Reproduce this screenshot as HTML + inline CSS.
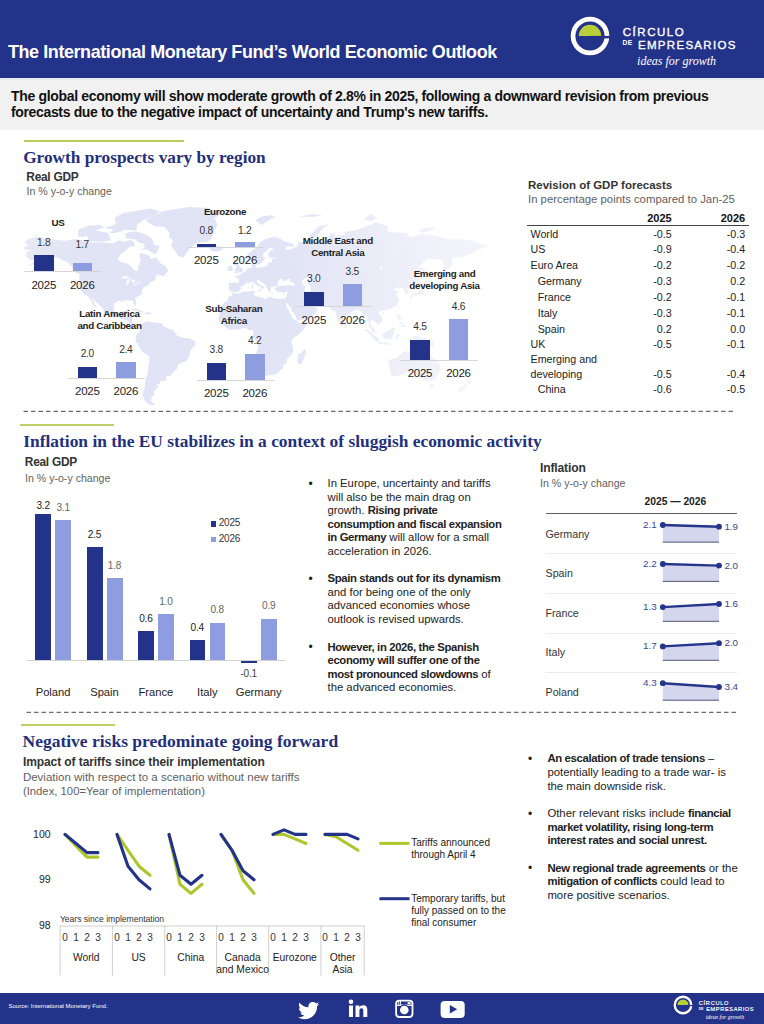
<!DOCTYPE html>
<html><head><meta charset="utf-8"><style>
html,body{margin:0;padding:0;}
body{width:764px;height:1024px;position:relative;overflow:hidden;background:#fff;font-family:"Liberation Sans",sans-serif;}
.t{position:absolute;white-space:nowrap;}
.r{position:absolute;}
b{font-weight:700;}
</style></head><body>
<div class="r" style="left:0px;top:0px;width:764px;height:78px;background:#24338a;"></div>
<div class="t" style="top:42.25px;font-size:19.2px;line-height:19.2px;font-weight:700;color:#fff;font-family:'Liberation Sans', sans-serif;letter-spacing:-0.45px;left:7.6px;transform:scaleX(0.937);transform-origin:0 0;">The International Monetary Fund’s World Economic Outlook</div>
<div class="r" style="left:0px;top:78px;width:764px;height:52px;background:#f1f1f1;"></div>
<div class="r" style="left:0px;top:78px;width:764px;height:1.5px;background:#e9edf6;"></div>
<div class="t" style="top:88.65px;font-size:14px;line-height:14px;font-weight:700;color:#111;font-family:'Liberation Sans', sans-serif;letter-spacing:-0.33px;left:11px;">The global economy will show moderate growth of 2.8% in 2025, following a downward revision from previous</div>
<div class="t" style="top:104.75px;font-size:14px;line-height:14px;font-weight:700;color:#111;font-family:'Liberation Sans', sans-serif;letter-spacing:-0.35px;left:11px;">forecasts due to the negative impact of uncertainty and Trump's new tariffs.</div>
<div class="r" style="left:24px;top:139.9px;width:160px;height:2.1px;background:#bccb5c;"></div>
<div class="t" style="top:148.55px;font-size:17.25px;line-height:17.25px;font-weight:700;color:#22307c;font-family:'Liberation Serif', serif;left:23.2px;">Growth prospects vary by region</div>
<div class="t" style="top:171.53px;font-size:11.9px;line-height:11.9px;font-weight:700;color:#333;font-family:'Liberation Sans', sans-serif;letter-spacing:-0.25px;left:26.3px;">Real GDP</div>
<div class="t" style="top:186.23px;font-size:10.6px;line-height:10.6px;font-weight:400;color:#5f5f5f;font-family:'Liberation Sans', sans-serif;left:26.5px;">In % y-o-y change</div>
<svg class="r" style="left:0;top:0" width="764" height="1024"><defs><radialGradient id="mg" gradientUnits="userSpaceOnUse" cx="180" cy="292" r="285"><stop offset="0" stop-color="#dfe3f5"/><stop offset="0.38" stop-color="#e1e4f5"/><stop offset="0.62" stop-color="#e8eaf7"/><stop offset="0.85" stop-color="#eff0f9"/><stop offset="1" stop-color="#f3f4fb"/></radialGradient></defs><path d="M24.9,241.7 L28.8,238.7 L37.2,236.6 L45.7,238.4 L57.4,240.1 L65.2,240.7 L74.3,238.9 L84.7,240.5 L92.5,242.8 L100.3,242.2 L113.3,243.6 L118.5,240.3 L123.7,241.7 L130.2,239.7 L134.1,242.2 L134.8,246.1 L128.9,247.0 L126.3,250.3 L120.4,254.2 L117.8,258.5 L119.8,261.8 L123.7,262.6 L130.2,265.3 L133.7,269.7 L137.3,271.2 L138.6,265.8 L140.6,261.0 L139.3,256.8 L139.9,253.4 L144.5,253.7 L149.7,256.0 L150.3,259.3 L156.2,257.3 L160.8,263.4 L165.9,266.6 L168.3,270.4 L164.0,276.3 L156.8,274.6 L154.9,280.6 L149.7,282.2 L149.0,285.1 L144.5,286.7 L141.9,290.0 L142.3,293.5 L139.3,295.4 L135.4,298.3 L136.4,303.9 L136.0,306.0 L134.1,304.5 L132.8,300.8 L130.2,300.6 L124.3,299.9 L123.7,301.4 L118.5,300.7 L114.3,303.0 L113.9,306.3 L113.7,310.4 L115.9,313.4 L117.8,314.3 L122.4,313.6 L123.0,311.0 L127.6,310.4 L126.8,314.1 L125.9,316.9 L131.5,317.1 L132.5,318.6 L131.8,322.6 L134.8,325.0 L137.3,324.3 L140.1,325.4 L139.3,327.0 L136.7,326.6 L135.4,326.0 L132.0,325.5 L129.3,323.8 L129.2,322.3 L126.9,320.1 L121.7,319.2 L118.5,316.9 L115.2,317.2 L109.4,315.5 L103.5,312.2 L103.5,309.3 L100.3,305.7 L94.4,300.8 L91.6,298.1 L93.8,301.4 L95.1,305.1 L97.7,308.7 L95.1,306.9 L92.5,303.9 L91.2,300.8 L88.6,297.1 L86.6,295.2 L83.9,294.4 L81.4,290.7 L79.5,286.7 L79.1,283.3 L79.5,278.7 L78.6,275.7 L80.8,274.9 L74.9,271.9 L71.7,266.6 L67.1,261.8 L61.9,260.0 L58.7,257.7 L52.2,257.2 L48.3,256.8 L43.7,259.0 L40.5,262.3 L35.9,263.3 L30.1,265.8 L26.8,266.7 L34.6,261.8 L35.9,260.0 L30.1,260.0 L26.2,256.6 L26.2,253.4 L26.8,252.1 L31.4,250.2 L25.5,249.8 L22.3,247.8 L28.1,246.1ZM136.7,231.5 L147.1,235.1 L152.3,239.3 L154.2,245.1 L160.1,246.1 L157.5,251.6 L155.5,254.2 L151.6,252.5 L147.1,249.8 L139.3,249.8 L144.5,248.0 L144.5,244.2 L138.0,242.2 L135.4,239.3 L126.3,238.2 L125.0,233.9 L128.9,231.9ZM87.3,236.2 L86.0,231.9 L91.2,229.7 L104.2,231.9 L108.1,233.0 L110.7,240.3 L102.9,241.5 L91.2,241.7 L87.9,239.7ZM121.1,229.7 L136.7,230.2 L136.7,225.1 L143.2,220.3 L152.3,216.5 L160.1,211.2 L149.7,208.5 L123.7,213.1 L114.6,217.8 L115.9,224.0 L110.7,226.3 L104.2,227.5 L113.3,229.7ZM78.2,236.2 L78.2,229.7 L88.6,225.4 L100.3,225.1 L104.2,227.5 L97.7,229.7 L88.6,234.1 L83.4,237.2ZM114.6,233.0 L123.7,230.8 L117.2,228.6 L113.3,229.7 L109.4,233.0ZM145.8,220.3 L154.9,215.0 L162.7,211.2 L188.7,207.0 L208.2,207.9 L216.0,212.6 L224.4,212.6 L214.7,217.8 L217.3,225.1 L213.4,233.0 L212.1,238.2 L206.9,242.2 L197.8,242.8 L190.0,247.8 L186.1,253.4 L183.5,257.7 L178.3,256.0 L175.0,250.7 L171.1,246.1 L173.1,240.3 L169.2,237.2 L169.2,231.9 L164.0,226.8 L154.9,226.3 L148.4,222.8ZM209.5,248.0 L212.1,246.3 L219.9,246.1 L223.1,248.5 L221.2,250.2 L216.6,251.8 L211.4,251.1ZM140.1,325.4 L142.5,323.2 L147.8,321.0 L149.7,322.1 L157.5,323.0 L161.4,323.0 L162.7,325.5 L166.6,328.3 L173.1,330.0 L175.0,333.1 L177.0,335.7 L183.5,337.9 L188.7,338.3 L195.2,341.0 L195.5,343.6 L194.5,345.9 L191.9,348.7 L190.0,351.0 L189.7,355.1 L188.0,358.6 L186.1,361.5 L182.2,362.2 L177.6,365.1 L177.4,368.2 L173.1,372.5 L170.5,375.7 L165.9,376.3 L166.6,378.2 L165.7,380.4 L160.1,381.5 L159.7,384.2 L156.2,384.2 L157.9,386.2 L156.2,389.6 L152.9,391.7 L154.9,393.9 L151.6,397.5 L151.0,399.8 L151.6,402.1 L155.5,404.4 L152.3,405.3 L148.4,404.4 L144.5,400.5 L142.5,393.9 L144.5,388.2 L145.1,382.8 L145.5,378.9 L147.8,373.8 L147.9,370.0 L149.0,363.9 L149.4,358.0 L147.9,355.1 L143.2,352.7 L141.5,350.4 L139.3,346.4 L137.0,343.0 L135.1,341.3 L136.3,339.1 L136.0,336.2 L136.7,334.2 L138.0,333.4 L139.9,330.6 L140.2,327.0ZM228.3,283.3 L230.3,282.4 L238.8,282.8 L239.1,279.2 L234.8,276.6 L238.8,275.3 L242.6,273.1 L245.9,271.2 L247.2,268.4 L251.8,268.0 L252.0,265.0 L251.4,262.6 L254.3,261.5 L254.3,264.2 L256.9,265.0 L255.0,267.4 L258.9,267.4 L265.4,266.7 L268.0,265.0 L268.0,262.6 L271.2,262.6 L272.6,260.2 L271.2,259.0 L279.7,257.7 L270.6,257.7 L268.6,256.0 L268.6,252.1 L273.8,248.9 L269.9,247.4 L263.4,253.4 L262.8,256.5 L265.4,258.0 L262.1,262.6 L259.6,264.2 L257.3,265.0 L255.0,260.2 L251.1,261.0 L247.8,259.7 L247.2,255.1 L251.1,251.6 L256.9,247.0 L260.2,242.2 L265.4,239.3 L271.9,237.2 L277.1,237.2 L281.0,239.3 L283.6,240.7 L294.0,244.2 L293.3,247.0 L286.2,246.5 L284.9,249.8 L290.1,249.8 L297.9,246.1 L297.9,242.2 L309.6,242.2 L317.4,242.0 L319.4,239.7 L327.8,242.2 L330.4,233.4 L334.9,233.4 L334.9,243.2 L338.2,242.2 L336.2,236.2 L344.7,234.7 L345.4,231.7 L353.8,230.8 L368.1,225.8 L375.9,222.3 L387.6,226.3 L388.2,231.9 L407.1,233.0 L409.7,237.2 L422.7,234.1 L435.7,236.0 L448.7,239.3 L461.7,239.5 L469.5,239.9 L474.7,241.5 L487.7,246.6 L482.5,248.5 L477.3,249.8 L472.8,253.4 L466.9,254.9 L462.4,257.7 L452.6,257.8 L451.9,261.6 L452.6,264.2 L448.7,268.9 L444.1,271.9 L443.5,265.8 L442.9,261.5 L438.3,259.3 L426.6,258.8 L418.8,267.4 L424.5,268.9 L423.2,275.6 L416.9,282.6 L411.0,283.9 L409.0,286.3 L407.1,288.7 L408.9,292.6 L405.1,294.7 L404.5,290.4 L402.8,287.6 L398.6,288.7 L399.3,286.7 L393.8,288.7 L395.4,291.1 L399.9,291.1 L397.4,292.6 L396.0,294.5 L398.0,297.7 L399.3,300.2 L398.6,302.6 L396.0,305.7 L392.8,308.1 L388.2,309.6 L384.4,311.0 L381.1,310.4 L379.1,312.2 L378.2,313.4 L382.1,317.5 L382.8,321.5 L379.8,323.2 L376.9,325.4 L377.2,323.2 L373.9,321.3 L371.4,319.8 L370.0,323.2 L371.1,326.6 L373.3,328.1 L375.2,330.0 L375.2,333.4 L372.6,331.9 L371.1,328.9 L368.5,326.0 L368.8,322.9 L367.4,316.3 L363.6,316.6 L363.2,313.7 L360.3,310.4 L357.7,309.9 L353.5,310.8 L351.2,312.8 L347.3,315.7 L345.0,317.5 L345.0,320.3 L344.4,323.4 L341.4,326.0 L339.9,324.3 L337.6,319.2 L335.6,313.6 L334.9,310.8 L332.1,311.0 L329.8,308.1 L327.1,305.8 L320.6,306.0 L315.2,305.3 L313.9,303.6 L310.9,304.3 L307.6,302.9 L305.7,300.2 L303.1,300.2 L304.0,302.6 L306.0,304.8 L307.6,305.9 L307.6,307.5 L310.9,307.2 L313.9,304.8 L314.1,306.9 L318.4,309.3 L316.8,311.6 L315.8,313.5 L312.9,315.3 L308.6,317.3 L303.8,319.2 L299.2,320.3 L297.1,320.7 L296.2,317.5 L294.0,313.4 L291.4,310.4 L290.8,307.7 L286.5,302.6 L285.6,302.6 L285.2,298.7 L286.2,297.1 L287.2,293.9 L287.8,291.8 L282.9,292.5 L279.7,292.2 L276.1,291.3 L274.8,288.0 L278.4,286.0 L281.4,285.8 L287.5,285.2 L294.6,285.4 L294.9,283.7 L292.1,282.0 L289.4,281.0 L290.8,278.0 L286.2,280.1 L284.2,281.3 L282.9,279.9 L280.3,278.5 L279.1,280.1 L277.9,282.4 L277.1,284.8 L278.4,285.9 L274.5,286.3 L271.2,287.2 L270.1,286.7 L271.2,289.4 L269.9,292.0 L268.6,291.3 L268.0,289.4 L266.1,286.7 L265.8,284.7 L262.1,282.6 L258.5,279.9 L256.7,280.1 L256.9,282.0 L258.9,284.0 L261.5,285.4 L264.8,287.0 L262.8,288.7 L261.6,290.0 L261.0,289.8 L261.5,288.0 L260.8,287.1 L258.9,286.3 L256.7,285.0 L254.3,283.3 L252.1,281.4 L249.1,283.2 L245.9,282.6 L244.9,284.2 L244.9,285.0 L241.7,286.0 L240.3,288.0 L241.0,289.1 L239.8,290.5 L237.8,291.7 L235.0,291.7 L233.4,292.6 L232.2,291.5 L230.9,291.1 L229.1,291.3 L229.3,289.1 L228.3,288.7 L229.3,286.3ZM233.0,292.9 L238.1,293.8 L242.0,292.0 L244.6,291.6 L253.3,290.9 L255.0,291.3 L253.7,294.5 L255.3,296.2 L260.5,297.3 L266.1,299.8 L266.7,297.7 L270.6,296.8 L273.2,298.1 L278.4,299.1 L282.7,298.6 L285.2,298.7 L285.6,302.6 L286.8,307.5 L289.1,311.0 L290.8,314.6 L292.1,317.5 L294.6,319.4 L297.0,320.8 L297.9,323.2 L301.8,322.5 L307.4,321.7 L307.0,323.2 L305.1,327.2 L303.1,330.0 L300.5,332.8 L296.6,335.7 L294.0,337.4 L291.8,340.2 L291.1,342.5 L292.1,344.2 L293.3,347.0 L293.3,352.2 L291.4,354.5 L286.8,359.2 L286.8,362.7 L283.5,365.1 L282.9,368.2 L281.0,369.8 L277.8,373.1 L274.1,375.0 L269.9,375.0 L266.7,376.0 L264.6,375.3 L264.1,372.5 L262.1,368.3 L260.5,365.7 L259.6,360.9 L256.3,355.6 L256.0,353.9 L256.9,350.4 L258.5,347.6 L257.6,345.3 L256.6,341.9 L256.3,340.8 L252.8,337.4 L253.0,334.0 L253.4,331.5 L252.0,330.0 L248.5,330.2 L246.5,328.0 L243.9,328.0 L238.1,329.7 L234.8,329.2 L230.9,330.1 L228.3,328.9 L225.8,327.3 L223.4,325.5 L223.1,324.0 L221.2,322.9 L219.0,320.9 L217.9,318.4 L219.2,316.9 L219.6,312.8 L218.5,311.0 L219.9,308.1 L221.6,305.7 L223.8,302.9 L228.0,300.2 L228.3,297.1 L231.9,295.2ZM304.8,348.7 L306.4,352.7 L305.1,355.1 L303.1,360.3 L301.8,363.9 L299.2,364.5 L297.2,360.3 L298.3,354.5 L301.1,353.1 L303.1,351.0ZM233.3,273.4 L242.6,271.9 L242.9,269.4 L241.0,268.1 L238.8,265.8 L238.1,262.6 L236.1,261.5 L236.8,260.0 L234.2,260.0 L232.9,262.9 L233.5,265.0 L236.8,266.1 L236.5,268.3 L234.7,269.2 L233.9,270.9 L236.5,271.2ZM232.9,270.1 L232.6,267.4 L230.9,265.3 L227.7,267.0 L227.7,271.0 L230.3,270.9ZM409.7,298.6 L411.6,298.3 L412.3,295.4 L416.2,295.8 L418.5,294.8 L422.0,294.2 L423.7,293.1 L424.0,289.6 L425.3,288.0 L424.5,285.5 L423.0,286.3 L422.4,288.7 L420.8,290.7 L418.5,290.9 L417.5,292.9 L413.6,293.3 L411.0,294.8ZM422.7,285.4 L425.0,283.9 L429.9,282.9 L429.2,281.7 L425.0,280.0 L424.6,282.6 L423.2,283.1ZM425.3,279.2 L427.2,274.9 L426.6,268.9 L425.9,266.9 L425.3,271.9 L425.3,276.3ZM344.4,326.0 L345.0,324.0 L347.0,326.6 L346.0,328.3 L344.7,328.1ZM397.0,309.3 L399.2,306.3 L398.0,306.0 L396.8,308.1ZM381.9,313.2 L384.4,312.1 L385.0,312.7 L383.2,314.3ZM364.6,328.8 L367.4,329.2 L371.4,332.8 L375.9,336.2 L378.5,338.5 L378.2,341.7 L376.5,341.8 L373.7,339.6 L371.4,336.2 L368.8,333.1 L365.5,330.8ZM377.5,342.8 L378.5,341.8 L381.8,342.5 L385.0,342.3 L389.5,343.8 L389.4,344.9 L384.4,344.4 L379.1,343.5ZM382.4,333.4 L383.7,333.2 L385.6,331.9 L388.2,331.1 L390.9,329.1 L392.8,327.2 L395.7,329.1 L394.1,330.2 L394.1,334.0 L393.4,335.1 L392.1,337.9 L391.5,339.6 L389.5,339.1 L385.6,338.5 L384.0,338.3 L382.4,335.4ZM396.0,341.3 L397.4,338.5 L397.7,336.5 L398.6,336.2 L400.6,336.0 L398.6,334.5 L400.6,334.1 L403.2,333.4 L397.4,334.4 L396.4,335.7 L395.4,338.5ZM411.0,336.8 L414.9,336.0 L418.8,336.8 L424.0,338.0 L429.2,340.0 L433.1,342.5 L435.7,347.0 L431.8,346.4 L427.9,343.8 L425.9,345.6 L422.7,344.2 L420.1,344.5 L421.1,342.8 L419.4,340.8 L414.9,339.5 L412.3,338.3ZM396.7,314.0 L399.7,314.0 L399.3,316.9 L401.9,320.3 L398.6,319.4 L397.4,318.6ZM399.3,326.0 L405.1,327.2 L404.5,324.3 L401.2,325.5ZM399.3,322.1 L403.9,322.6 L403.2,324.0 L399.9,324.0ZM388.2,360.3 L389.2,365.1 L390.2,370.6 L391.1,374.4 L390.2,375.4 L394.1,376.3 L401.2,374.9 L404.5,372.9 L411.0,371.9 L414.9,373.1 L417.5,375.7 L420.1,376.9 L423.4,380.2 L427.9,380.6 L431.1,381.5 L435.7,379.5 L436.7,375.7 L439.6,371.3 L440.4,368.2 L439.6,364.5 L436.7,360.9 L434.1,358.6 L430.9,356.8 L429.9,352.2 L427.2,351.0 L425.9,347.2 L424.8,349.7 L424.8,352.7 L423.7,355.1 L421.4,354.5 L416.9,351.9 L418.5,348.9 L412.9,348.1 L409.7,349.6 L409.0,352.2 L405.8,351.0 L403.2,352.2 L399.6,355.1 L398.0,357.4 L392.8,358.7ZM428.7,383.8 L433.5,384.0 L433.1,387.1 L430.5,387.7 L429.5,385.8ZM465.2,375.7 L467.5,377.6 L469.5,379.7 L472.8,379.8 L470.8,382.2 L469.5,384.6 L467.7,384.6 L468.2,382.7 L466.6,381.8 L467.7,378.9ZM465.2,383.5 L467.3,384.8 L465.6,387.6 L463.0,389.4 L460.4,391.9 L457.1,391.0 L459.1,388.2 L462.4,386.6ZM130.2,310.0 L134.1,308.4 L139.9,310.1 L144.2,312.0 L139.7,312.3 L136.7,310.2ZM144.0,314.0 L146.1,312.3 L151.0,312.7 L151.8,313.9 L148.4,314.3ZM138.9,314.1 L141.6,314.2 L140.9,314.8ZM153.3,314.0 L155.4,314.1 L155.2,314.6 L153.3,314.6ZM308.3,236.2 L313.5,231.9 L318.7,226.3 L329.1,224.2 L323.9,227.5 L314.8,238.0ZM255.0,220.3 L261.5,216.5 L270.6,215.2 L275.8,217.1 L266.7,221.6 L261.5,225.1ZM364.2,219.1 L370.7,213.9 L377.2,217.8 L370.7,221.6ZM417.5,230.8 L425.3,227.5 L435.7,228.1 L430.5,230.8 L422.7,232.4ZM472.8,237.2 L477.3,236.2 L478.6,237.2ZM299.2,216.5 L312.2,213.9 L322.6,215.2 L312.2,217.1ZM256.8,290.0 L261.0,289.6 L260.2,291.7ZM251.6,286.0 L253.4,286.0 L253.2,288.7 L251.8,288.7ZM251.9,283.5 L253.0,283.5 L252.8,285.4 L252.1,285.2ZM271.2,293.1 L274.9,293.6 L272.6,294.0ZM282.7,293.9 L285.6,293.1 L284.6,294.4Z" fill="url(#mg)"/><path d="M304.4,278.5 L307.6,277.7 L309.6,278.5 L309.9,280.3 L307.4,281.3 L308.9,284.7 L310.9,286.3 L310.6,288.7 L310.9,290.9 L307.0,291.7 L304.4,290.7 L305.1,287.0 L303.1,284.7 L302.4,282.6 L301.8,281.1ZM121.1,278.2 L125.0,275.7 L130.5,277.9 L130.8,278.6 L126.9,278.5ZM126.6,285.1 L128.6,284.3 L128.9,280.6 L130.2,279.4 L126.9,279.9 L126.4,282.6ZM130.8,279.3 L133.4,280.1 L135.0,280.3 L134.5,282.9 L133.4,283.3 L132.1,281.7ZM132.1,285.1 L138.0,283.6 L138.1,284.0 L134.1,285.5ZM137.0,282.9 L141.6,282.5 L141.2,281.8 L138.0,282.2ZM316.8,278.5 L320.6,278.5 L320.0,282.0 L317.4,282.6ZM375.9,271.2 L378.5,269.7 L383.0,264.7 L382.4,268.1Z" fill="#fff"/></svg>
<div class="r" style="left:24px;top:271px;width:77.5px;height:1px;background:#d6d6d6;"></div>
<div class="r" style="left:34px;top:255.2px;width:19.5px;height:15.800000000000011px;background:#24338a;"></div>
<div class="r" style="left:72.5px;top:263px;width:19.5px;height:8px;background:#8e9de0;"></div>
<div class="t" style="top:238.37px;font-size:10.2px;line-height:10.2px;font-weight:400;color:#333;font-family:'Liberation Sans', sans-serif;letter-spacing:-0.3px;left:43.75px;transform:translateX(-50%);text-align:center;">1.8</div>
<div class="t" style="top:240.27px;font-size:10.2px;line-height:10.2px;font-weight:400;color:#333;font-family:'Liberation Sans', sans-serif;letter-spacing:-0.3px;left:82.25px;transform:translateX(-50%);text-align:center;">1.7</div>
<div class="t" style="top:279.87px;font-size:11.5px;line-height:11.5px;font-weight:400;color:#222;font-family:'Liberation Sans', sans-serif;letter-spacing:-0.25px;left:43.75px;transform:translateX(-50%);text-align:center;">2025</div>
<div class="t" style="top:279.87px;font-size:11.5px;line-height:11.5px;font-weight:400;color:#222;font-family:'Liberation Sans', sans-serif;letter-spacing:-0.25px;left:82.25px;transform:translateX(-50%);text-align:center;">2026</div>
<div class="t" style="top:218.40px;font-size:9.8px;line-height:9.8px;font-weight:700;color:#222;font-family:'Liberation Sans', sans-serif;letter-spacing:-0.3px;left:58px;transform:translateX(-50%);text-align:center;">US</div>
<div class="r" style="left:186.5px;top:247px;width:77.5px;height:1px;background:#d6d6d6;"></div>
<div class="r" style="left:196.5px;top:243.7px;width:19.5px;height:3.3000000000000114px;background:#24338a;"></div>
<div class="r" style="left:235.0px;top:241.9px;width:19.5px;height:5.099999999999994px;background:#8e9de0;"></div>
<div class="t" style="top:225.67px;font-size:10.2px;line-height:10.2px;font-weight:400;color:#333;font-family:'Liberation Sans', sans-serif;letter-spacing:-0.3px;left:206.25px;transform:translateX(-50%);text-align:center;">0.8</div>
<div class="t" style="top:225.67px;font-size:10.2px;line-height:10.2px;font-weight:400;color:#333;font-family:'Liberation Sans', sans-serif;letter-spacing:-0.3px;left:244.75px;transform:translateX(-50%);text-align:center;">1.2</div>
<div class="t" style="top:254.77px;font-size:11.5px;line-height:11.5px;font-weight:400;color:#222;font-family:'Liberation Sans', sans-serif;letter-spacing:-0.25px;left:206.25px;transform:translateX(-50%);text-align:center;">2025</div>
<div class="t" style="top:254.77px;font-size:11.5px;line-height:11.5px;font-weight:400;color:#222;font-family:'Liberation Sans', sans-serif;letter-spacing:-0.25px;left:244.75px;transform:translateX(-50%);text-align:center;">2026</div>
<div class="t" style="top:206.60px;font-size:9.8px;line-height:9.8px;font-weight:700;color:#222;font-family:'Liberation Sans', sans-serif;letter-spacing:-0.3px;left:225px;transform:translateX(-50%);text-align:center;">Eurozone</div>
<div class="r" style="left:294px;top:306px;width:77.5px;height:1px;background:#d6d6d6;"></div>
<div class="r" style="left:304px;top:291.9px;width:19.5px;height:14.100000000000023px;background:#24338a;"></div>
<div class="r" style="left:342.5px;top:283.9px;width:19.5px;height:22.100000000000023px;background:#8e9de0;"></div>
<div class="t" style="top:273.77px;font-size:10.2px;line-height:10.2px;font-weight:400;color:#333;font-family:'Liberation Sans', sans-serif;letter-spacing:-0.3px;left:313.75px;transform:translateX(-50%);text-align:center;">3.0</div>
<div class="t" style="top:266.57px;font-size:10.2px;line-height:10.2px;font-weight:400;color:#333;font-family:'Liberation Sans', sans-serif;letter-spacing:-0.3px;left:352.25px;transform:translateX(-50%);text-align:center;">3.5</div>
<div class="t" style="top:314.87px;font-size:11.5px;line-height:11.5px;font-weight:400;color:#222;font-family:'Liberation Sans', sans-serif;letter-spacing:-0.25px;left:313.75px;transform:translateX(-50%);text-align:center;">2025</div>
<div class="t" style="top:314.87px;font-size:11.5px;line-height:11.5px;font-weight:400;color:#222;font-family:'Liberation Sans', sans-serif;letter-spacing:-0.25px;left:352.25px;transform:translateX(-50%);text-align:center;">2026</div>
<div class="t" style="top:236.40px;font-size:9.8px;line-height:9.8px;font-weight:700;color:#222;font-family:'Liberation Sans', sans-serif;letter-spacing:-0.3px;left:337.8px;transform:translateX(-50%);text-align:center;">Middle East and</div>
<div class="t" style="top:248.30px;font-size:9.8px;line-height:9.8px;font-weight:700;color:#222;font-family:'Liberation Sans', sans-serif;letter-spacing:-0.3px;left:337.8px;transform:translateX(-50%);text-align:center;">Central Asia</div>
<div class="r" style="left:400.2px;top:360px;width:77.5px;height:1px;background:#d6d6d6;"></div>
<div class="r" style="left:410.2px;top:339.8px;width:19.5px;height:20.19999999999999px;background:#24338a;"></div>
<div class="r" style="left:448.7px;top:319.2px;width:19.5px;height:40.80000000000001px;background:#8e9de0;"></div>
<div class="t" style="top:322.07px;font-size:10.2px;line-height:10.2px;font-weight:400;color:#333;font-family:'Liberation Sans', sans-serif;letter-spacing:-0.3px;left:419.95px;transform:translateX(-50%);text-align:center;">4.5</div>
<div class="t" style="top:301.77px;font-size:10.2px;line-height:10.2px;font-weight:400;color:#333;font-family:'Liberation Sans', sans-serif;letter-spacing:-0.3px;left:458.45px;transform:translateX(-50%);text-align:center;">4.6</div>
<div class="t" style="top:368.47px;font-size:11.5px;line-height:11.5px;font-weight:400;color:#222;font-family:'Liberation Sans', sans-serif;letter-spacing:-0.25px;left:419.95px;transform:translateX(-50%);text-align:center;">2025</div>
<div class="t" style="top:368.47px;font-size:11.5px;line-height:11.5px;font-weight:400;color:#222;font-family:'Liberation Sans', sans-serif;letter-spacing:-0.25px;left:458.45px;transform:translateX(-50%);text-align:center;">2026</div>
<div class="t" style="top:268.80px;font-size:9.8px;line-height:9.8px;font-weight:700;color:#222;font-family:'Liberation Sans', sans-serif;letter-spacing:-0.3px;left:444.5px;transform:translateX(-50%);text-align:center;">Emerging and</div>
<div class="t" style="top:280.70px;font-size:9.8px;line-height:9.8px;font-weight:700;color:#222;font-family:'Liberation Sans', sans-serif;letter-spacing:-0.3px;left:444.5px;transform:translateX(-50%);text-align:center;">developing Asia</div>
<div class="r" style="left:67.6px;top:378px;width:77.5px;height:1px;background:#d6d6d6;"></div>
<div class="r" style="left:77.6px;top:366.8px;width:19.5px;height:11.199999999999989px;background:#24338a;"></div>
<div class="r" style="left:116.1px;top:362.2px;width:19.5px;height:15.800000000000011px;background:#8e9de0;"></div>
<div class="t" style="top:348.97px;font-size:10.2px;line-height:10.2px;font-weight:400;color:#333;font-family:'Liberation Sans', sans-serif;letter-spacing:-0.3px;left:87.35px;transform:translateX(-50%);text-align:center;">2.0</div>
<div class="t" style="top:344.77px;font-size:10.2px;line-height:10.2px;font-weight:400;color:#333;font-family:'Liberation Sans', sans-serif;letter-spacing:-0.3px;left:125.85px;transform:translateX(-50%);text-align:center;">2.4</div>
<div class="t" style="top:386.17px;font-size:11.5px;line-height:11.5px;font-weight:400;color:#222;font-family:'Liberation Sans', sans-serif;letter-spacing:-0.25px;left:87.35px;transform:translateX(-50%);text-align:center;">2025</div>
<div class="t" style="top:386.17px;font-size:11.5px;line-height:11.5px;font-weight:400;color:#222;font-family:'Liberation Sans', sans-serif;letter-spacing:-0.25px;left:125.85px;transform:translateX(-50%);text-align:center;">2026</div>
<div class="t" style="top:309.00px;font-size:9.8px;line-height:9.8px;font-weight:700;color:#222;font-family:'Liberation Sans', sans-serif;letter-spacing:-0.3px;left:109.5px;transform:translateX(-50%);text-align:center;">Latin America</div>
<div class="t" style="top:320.90px;font-size:9.8px;line-height:9.8px;font-weight:700;color:#222;font-family:'Liberation Sans', sans-serif;letter-spacing:-0.3px;left:109.5px;transform:translateX(-50%);text-align:center;">and Caribbean</div>
<div class="r" style="left:196.5px;top:380px;width:77.5px;height:1px;background:#d6d6d6;"></div>
<div class="r" style="left:206.5px;top:362.8px;width:19.5px;height:17.19999999999999px;background:#24338a;"></div>
<div class="r" style="left:245.0px;top:353.9px;width:19.5px;height:26.100000000000023px;background:#8e9de0;"></div>
<div class="t" style="top:344.57px;font-size:10.2px;line-height:10.2px;font-weight:400;color:#333;font-family:'Liberation Sans', sans-serif;letter-spacing:-0.3px;left:216.25px;transform:translateX(-50%);text-align:center;">3.8</div>
<div class="t" style="top:336.07px;font-size:10.2px;line-height:10.2px;font-weight:400;color:#333;font-family:'Liberation Sans', sans-serif;letter-spacing:-0.3px;left:254.75px;transform:translateX(-50%);text-align:center;">4.2</div>
<div class="t" style="top:388.37px;font-size:11.5px;line-height:11.5px;font-weight:400;color:#222;font-family:'Liberation Sans', sans-serif;letter-spacing:-0.25px;left:216.25px;transform:translateX(-50%);text-align:center;">2025</div>
<div class="t" style="top:388.37px;font-size:11.5px;line-height:11.5px;font-weight:400;color:#222;font-family:'Liberation Sans', sans-serif;letter-spacing:-0.25px;left:254.75px;transform:translateX(-50%);text-align:center;">2026</div>
<div class="t" style="top:304.00px;font-size:9.8px;line-height:9.8px;font-weight:700;color:#222;font-family:'Liberation Sans', sans-serif;letter-spacing:-0.3px;left:233.8px;transform:translateX(-50%);text-align:center;">Sub-Saharan</div>
<div class="t" style="top:315.90px;font-size:9.8px;line-height:9.8px;font-weight:700;color:#222;font-family:'Liberation Sans', sans-serif;letter-spacing:-0.3px;left:233.8px;transform:translateX(-50%);text-align:center;">Africa</div>
<div class="t" style="top:179.87px;font-size:11.5px;line-height:11.5px;font-weight:700;color:#333;font-family:'Liberation Sans', sans-serif;left:528px;">Revision of GDP forecasts</div>
<div class="t" style="top:194.39px;font-size:11.35px;line-height:11.35px;font-weight:400;color:#5f5f5f;font-family:'Liberation Sans', sans-serif;left:528px;">In percentage points compared to Jan-25</div>
<div class="t" style="top:212.69px;font-size:11px;line-height:11px;font-weight:700;color:#111;font-family:'Liberation Sans', sans-serif;right:92.29999999999995px;text-align:right;">2025</div>
<div class="t" style="top:212.69px;font-size:11px;line-height:11px;font-weight:700;color:#111;font-family:'Liberation Sans', sans-serif;right:18.799999999999955px;text-align:right;">2026</div>
<div class="r" style="left:527px;top:224.5px;width:221.5px;height:1.1px;background:#444;"></div>
<div class="t" style="top:228.74px;font-size:10.7px;line-height:10.7px;font-weight:400;color:#222;font-family:'Liberation Sans', sans-serif;left:530.5px;">World</div>
<div class="t" style="top:228.74px;font-size:10.7px;line-height:10.7px;font-weight:400;color:#222;font-family:'Liberation Sans', sans-serif;right:92.29999999999995px;text-align:right;">-0.5</div>
<div class="t" style="top:228.74px;font-size:10.7px;line-height:10.7px;font-weight:400;color:#222;font-family:'Liberation Sans', sans-serif;right:18.799999999999955px;text-align:right;">-0.3</div>
<div class="t" style="top:244.34px;font-size:10.7px;line-height:10.7px;font-weight:400;color:#222;font-family:'Liberation Sans', sans-serif;left:530.5px;">US</div>
<div class="t" style="top:244.34px;font-size:10.7px;line-height:10.7px;font-weight:400;color:#222;font-family:'Liberation Sans', sans-serif;right:92.29999999999995px;text-align:right;">-0.9</div>
<div class="t" style="top:244.34px;font-size:10.7px;line-height:10.7px;font-weight:400;color:#222;font-family:'Liberation Sans', sans-serif;right:18.799999999999955px;text-align:right;">-0.4</div>
<div class="t" style="top:260.34px;font-size:10.7px;line-height:10.7px;font-weight:400;color:#222;font-family:'Liberation Sans', sans-serif;left:530.5px;">Euro Area</div>
<div class="t" style="top:260.34px;font-size:10.7px;line-height:10.7px;font-weight:400;color:#222;font-family:'Liberation Sans', sans-serif;right:92.29999999999995px;text-align:right;">-0.2</div>
<div class="t" style="top:260.34px;font-size:10.7px;line-height:10.7px;font-weight:400;color:#222;font-family:'Liberation Sans', sans-serif;right:18.799999999999955px;text-align:right;">-0.2</div>
<div class="t" style="top:276.34px;font-size:10.7px;line-height:10.7px;font-weight:400;color:#222;font-family:'Liberation Sans', sans-serif;left:537.7px;">Germany</div>
<div class="t" style="top:276.34px;font-size:10.7px;line-height:10.7px;font-weight:400;color:#222;font-family:'Liberation Sans', sans-serif;right:92.29999999999995px;text-align:right;">-0.3</div>
<div class="t" style="top:276.34px;font-size:10.7px;line-height:10.7px;font-weight:400;color:#222;font-family:'Liberation Sans', sans-serif;right:18.799999999999955px;text-align:right;">0.2</div>
<div class="t" style="top:291.94px;font-size:10.7px;line-height:10.7px;font-weight:400;color:#222;font-family:'Liberation Sans', sans-serif;left:537.7px;">France</div>
<div class="t" style="top:291.94px;font-size:10.7px;line-height:10.7px;font-weight:400;color:#222;font-family:'Liberation Sans', sans-serif;right:92.29999999999995px;text-align:right;">-0.2</div>
<div class="t" style="top:291.94px;font-size:10.7px;line-height:10.7px;font-weight:400;color:#222;font-family:'Liberation Sans', sans-serif;right:18.799999999999955px;text-align:right;">-0.1</div>
<div class="t" style="top:307.94px;font-size:10.7px;line-height:10.7px;font-weight:400;color:#222;font-family:'Liberation Sans', sans-serif;left:537.7px;">Italy</div>
<div class="t" style="top:307.94px;font-size:10.7px;line-height:10.7px;font-weight:400;color:#222;font-family:'Liberation Sans', sans-serif;right:92.29999999999995px;text-align:right;">-0.3</div>
<div class="t" style="top:307.94px;font-size:10.7px;line-height:10.7px;font-weight:400;color:#222;font-family:'Liberation Sans', sans-serif;right:18.799999999999955px;text-align:right;">-0.1</div>
<div class="t" style="top:323.94px;font-size:10.7px;line-height:10.7px;font-weight:400;color:#222;font-family:'Liberation Sans', sans-serif;left:537.7px;">Spain</div>
<div class="t" style="top:323.94px;font-size:10.7px;line-height:10.7px;font-weight:400;color:#222;font-family:'Liberation Sans', sans-serif;right:92.29999999999995px;text-align:right;">0.2</div>
<div class="t" style="top:323.94px;font-size:10.7px;line-height:10.7px;font-weight:400;color:#222;font-family:'Liberation Sans', sans-serif;right:18.799999999999955px;text-align:right;">0.0</div>
<div class="t" style="top:339.24px;font-size:10.7px;line-height:10.7px;font-weight:400;color:#222;font-family:'Liberation Sans', sans-serif;left:530.5px;">UK</div>
<div class="t" style="top:339.24px;font-size:10.7px;line-height:10.7px;font-weight:400;color:#222;font-family:'Liberation Sans', sans-serif;right:92.29999999999995px;text-align:right;">-0.5</div>
<div class="t" style="top:339.24px;font-size:10.7px;line-height:10.7px;font-weight:400;color:#222;font-family:'Liberation Sans', sans-serif;right:18.799999999999955px;text-align:right;">-0.1</div>
<div class="t" style="top:354.24px;font-size:10.7px;line-height:10.7px;font-weight:400;color:#222;font-family:'Liberation Sans', sans-serif;left:530.5px;">Emerging and</div>
<div class="t" style="top:368.94px;font-size:10.7px;line-height:10.7px;font-weight:400;color:#222;font-family:'Liberation Sans', sans-serif;left:530.5px;">developing</div>
<div class="t" style="top:368.94px;font-size:10.7px;line-height:10.7px;font-weight:400;color:#222;font-family:'Liberation Sans', sans-serif;right:92.29999999999995px;text-align:right;">-0.5</div>
<div class="t" style="top:368.94px;font-size:10.7px;line-height:10.7px;font-weight:400;color:#222;font-family:'Liberation Sans', sans-serif;right:18.799999999999955px;text-align:right;">-0.4</div>
<div class="t" style="top:383.94px;font-size:10.7px;line-height:10.7px;font-weight:400;color:#222;font-family:'Liberation Sans', sans-serif;left:537.7px;">China</div>
<div class="t" style="top:383.94px;font-size:10.7px;line-height:10.7px;font-weight:400;color:#222;font-family:'Liberation Sans', sans-serif;right:92.29999999999995px;text-align:right;">-0.6</div>
<div class="t" style="top:383.94px;font-size:10.7px;line-height:10.7px;font-weight:400;color:#222;font-family:'Liberation Sans', sans-serif;right:18.799999999999955px;text-align:right;">-0.5</div>
<svg class="r" style="left:0;top:0" width="764" height="1024"><line x1="23.5" y1="411.3" x2="735" y2="411.3" stroke="#6d6d6d" stroke-width="1.3" stroke-dasharray="4.5 3"/></svg>
<div class="r" style="left:19.5px;top:424.2px;width:94px;height:2.3px;background:#bfce66;"></div>
<div class="t" style="top:432.73px;font-size:17.4px;line-height:17.4px;font-weight:700;color:#22307c;font-family:'Liberation Serif', serif;left:23.3px;">Inflation in the EU stabilizes in a context of sluggish economic activity</div>
<div class="t" style="top:457.33px;font-size:11.9px;line-height:11.9px;font-weight:700;color:#333;font-family:'Liberation Sans', sans-serif;letter-spacing:-0.25px;left:24.8px;">Real GDP</div>
<div class="t" style="top:472.53px;font-size:10.6px;line-height:10.6px;font-weight:400;color:#5f5f5f;font-family:'Liberation Sans', sans-serif;left:25px;">In % y-o-y change</div>
<div class="r" style="left:26.7px;top:659.7px;width:259.6px;height:1px;background:#d3d3d3;"></div>
<div class="r" style="left:35.3px;top:513.8px;width:15.9px;height:145.80000000000007px;background:#24338a;"></div>
<div class="t" style="top:500.55px;font-size:10.1px;line-height:10.1px;font-weight:400;color:#222;font-family:'Liberation Sans', sans-serif;letter-spacing:-0.2px;left:43.099999999999994px;transform:translateX(-50%);text-align:center;">3.2</div>
<div class="r" style="left:55.3px;top:520.1px;width:15.9px;height:139.5px;background:#8e9de0;"></div>
<div class="t" style="top:502.95px;font-size:10.1px;line-height:10.1px;font-weight:400;color:#666;font-family:'Liberation Sans', sans-serif;letter-spacing:-0.2px;left:63.099999999999994px;transform:translateX(-50%);text-align:center;">3.1</div>
<div class="t" style="top:686.92px;font-size:11.2px;line-height:11.2px;font-weight:400;color:#222;font-family:'Liberation Sans', sans-serif;left:53.099999999999994px;transform:translateX(-50%);text-align:center;">Poland</div>
<div class="r" style="left:86.69999999999999px;top:547px;width:15.9px;height:112.60000000000002px;background:#24338a;"></div>
<div class="t" style="top:529.95px;font-size:10.1px;line-height:10.1px;font-weight:400;color:#222;font-family:'Liberation Sans', sans-serif;letter-spacing:-0.2px;left:94.49999999999999px;transform:translateX(-50%);text-align:center;">2.5</div>
<div class="r" style="left:106.69999999999999px;top:578.1px;width:15.9px;height:81.5px;background:#8e9de0;"></div>
<div class="t" style="top:560.95px;font-size:10.1px;line-height:10.1px;font-weight:400;color:#666;font-family:'Liberation Sans', sans-serif;letter-spacing:-0.2px;left:114.49999999999999px;transform:translateX(-50%);text-align:center;">1.8</div>
<div class="t" style="top:686.92px;font-size:11.2px;line-height:11.2px;font-weight:400;color:#222;font-family:'Liberation Sans', sans-serif;left:104.49999999999999px;transform:translateX(-50%);text-align:center;">Spain</div>
<div class="r" style="left:138.1px;top:631.2px;width:15.9px;height:28.399999999999977px;background:#24338a;"></div>
<div class="t" style="top:614.15px;font-size:10.1px;line-height:10.1px;font-weight:400;color:#222;font-family:'Liberation Sans', sans-serif;letter-spacing:-0.2px;left:145.9px;transform:translateX(-50%);text-align:center;">0.6</div>
<div class="r" style="left:158.1px;top:614px;width:15.9px;height:45.60000000000002px;background:#8e9de0;"></div>
<div class="t" style="top:596.85px;font-size:10.1px;line-height:10.1px;font-weight:400;color:#666;font-family:'Liberation Sans', sans-serif;letter-spacing:-0.2px;left:165.9px;transform:translateX(-50%);text-align:center;">1.0</div>
<div class="t" style="top:686.92px;font-size:11.2px;line-height:11.2px;font-weight:400;color:#222;font-family:'Liberation Sans', sans-serif;left:155.9px;transform:translateX(-50%);text-align:center;">France</div>
<div class="r" style="left:189.5px;top:640.1px;width:15.9px;height:19.5px;background:#24338a;"></div>
<div class="t" style="top:623.05px;font-size:10.1px;line-height:10.1px;font-weight:400;color:#222;font-family:'Liberation Sans', sans-serif;letter-spacing:-0.2px;left:197.3px;transform:translateX(-50%);text-align:center;">0.4</div>
<div class="r" style="left:209.5px;top:622.5px;width:15.9px;height:37.10000000000002px;background:#8e9de0;"></div>
<div class="t" style="top:605.35px;font-size:10.1px;line-height:10.1px;font-weight:400;color:#666;font-family:'Liberation Sans', sans-serif;letter-spacing:-0.2px;left:217.3px;transform:translateX(-50%);text-align:center;">0.8</div>
<div class="t" style="top:686.92px;font-size:11.2px;line-height:11.2px;font-weight:400;color:#222;font-family:'Liberation Sans', sans-serif;left:207.3px;transform:translateX(-50%);text-align:center;">Italy</div>
<div class="r" style="left:240.89999999999998px;top:661px;width:15.9px;height:1.8px;background:#24338a;"></div>
<div class="t" style="top:669.35px;font-size:10.1px;line-height:10.1px;font-weight:400;color:#444;font-family:'Liberation Sans', sans-serif;letter-spacing:-0.2px;left:248.7px;transform:translateX(-50%);text-align:center;">-0.1</div>
<div class="r" style="left:260.9px;top:618.5px;width:15.9px;height:41.10000000000002px;background:#8e9de0;"></div>
<div class="t" style="top:601.35px;font-size:10.1px;line-height:10.1px;font-weight:400;color:#666;font-family:'Liberation Sans', sans-serif;letter-spacing:-0.2px;left:268.7px;transform:translateX(-50%);text-align:center;">0.9</div>
<div class="t" style="top:686.92px;font-size:11.2px;line-height:11.2px;font-weight:400;color:#222;font-family:'Liberation Sans', sans-serif;left:258.7px;transform:translateX(-50%);text-align:center;">Germany</div>
<div class="r" style="left:210.6px;top:521.2px;width:5.5px;height:5.5px;background:#24338a;"></div>
<div class="r" style="left:210.6px;top:536.9px;width:5.5px;height:5.5px;background:#8e9de0;"></div>
<div class="t" style="top:518.24px;font-size:10px;line-height:10px;font-weight:400;color:#333;font-family:'Liberation Sans', sans-serif;letter-spacing:-0.25px;left:218.8px;">2025</div>
<div class="t" style="top:534.13px;font-size:10px;line-height:10px;font-weight:400;color:#333;font-family:'Liberation Sans', sans-serif;letter-spacing:-0.25px;left:218.8px;">2026</div>
<div class="t" style="top:477.94px;font-size:12px;line-height:12px;font-weight:400;color:#222;font-family:'Liberation Sans', sans-serif;left:308.4px;">•</div>
<div class="t" style="top:478.43px;font-size:11.3px;line-height:11.3px;font-weight:400;color:#222;font-family:'Liberation Sans', sans-serif;left:327.5px;">In Europe, uncertainty and tariffs</div>
<div class="t" style="top:491.88px;font-size:11.3px;line-height:11.3px;font-weight:400;color:#222;font-family:'Liberation Sans', sans-serif;left:327.5px;">will also be the main drag on</div>
<div class="t" style="top:505.33px;font-size:11.3px;line-height:11.3px;font-weight:400;color:#222;font-family:'Liberation Sans', sans-serif;left:327.5px;">growth. <b style="letter-spacing:-0.35px;">Rising private</b></div>
<div class="t" style="top:518.78px;font-size:11.3px;line-height:11.3px;font-weight:400;color:#222;font-family:'Liberation Sans', sans-serif;left:327.5px;"><b style="letter-spacing:-0.35px;">consumption and fiscal expansion</b></div>
<div class="t" style="top:532.23px;font-size:11.3px;line-height:11.3px;font-weight:400;color:#222;font-family:'Liberation Sans', sans-serif;left:327.5px;"><b style="letter-spacing:-0.35px;">in Germany</b> will allow for a small</div>
<div class="t" style="top:545.68px;font-size:11.3px;line-height:11.3px;font-weight:400;color:#222;font-family:'Liberation Sans', sans-serif;left:327.5px;">acceleration in 2026.</div>
<div class="t" style="top:572.94px;font-size:12px;line-height:12px;font-weight:400;color:#222;font-family:'Liberation Sans', sans-serif;left:308.4px;">•</div>
<div class="t" style="top:573.43px;font-size:11.3px;line-height:11.3px;font-weight:400;color:#222;font-family:'Liberation Sans', sans-serif;left:327.5px;"><b style="letter-spacing:-0.35px;">Spain stands out for its dynamism</b></div>
<div class="t" style="top:586.88px;font-size:11.3px;line-height:11.3px;font-weight:400;color:#222;font-family:'Liberation Sans', sans-serif;left:327.5px;">and for being one of the only</div>
<div class="t" style="top:600.33px;font-size:11.3px;line-height:11.3px;font-weight:400;color:#222;font-family:'Liberation Sans', sans-serif;left:327.5px;">advanced economies whose</div>
<div class="t" style="top:613.78px;font-size:11.3px;line-height:11.3px;font-weight:400;color:#222;font-family:'Liberation Sans', sans-serif;left:327.5px;">outlook is revised upwards.</div>
<div class="t" style="top:641.14px;font-size:12px;line-height:12px;font-weight:400;color:#222;font-family:'Liberation Sans', sans-serif;left:308.4px;">•</div>
<div class="t" style="top:641.63px;font-size:11.3px;line-height:11.3px;font-weight:400;color:#222;font-family:'Liberation Sans', sans-serif;left:327.5px;"><b style="letter-spacing:-0.35px;">However, in 2026, the Spanish</b></div>
<div class="t" style="top:655.08px;font-size:11.3px;line-height:11.3px;font-weight:400;color:#222;font-family:'Liberation Sans', sans-serif;left:327.5px;"><b style="letter-spacing:-0.35px;">economy will suffer one of the</b></div>
<div class="t" style="top:668.53px;font-size:11.3px;line-height:11.3px;font-weight:400;color:#222;font-family:'Liberation Sans', sans-serif;left:327.5px;"><b style="letter-spacing:-0.35px;">most pronounced slowdowns</b> of</div>
<div class="t" style="top:681.98px;font-size:11.3px;line-height:11.3px;font-weight:400;color:#222;font-family:'Liberation Sans', sans-serif;left:327.5px;">the advanced economies.</div>
<div class="t" style="top:462.46px;font-size:12.1px;line-height:12.1px;font-weight:700;color:#333;font-family:'Liberation Sans', sans-serif;letter-spacing:-0.15px;left:540px;">Inflation</div>
<div class="t" style="top:477.73px;font-size:10.6px;line-height:10.6px;font-weight:400;color:#5f5f5f;font-family:'Liberation Sans', sans-serif;left:540.1px;">In % y-o-y change</div>
<div class="t" style="top:496.68px;font-size:10.3px;line-height:10.3px;font-weight:700;color:#222;font-family:'Liberation Sans', sans-serif;left:675.4px;transform:translateX(-50%);text-align:center;">2025 — 2026</div>
<div class="r" style="left:545.5px;top:513px;width:191.7px;height:1px;background:#606060;"></div>
<div class="t" style="top:528.74px;font-size:10.7px;line-height:10.7px;font-weight:400;color:#333;font-family:'Liberation Sans', sans-serif;left:545.5px;">Germany</div>
<div class="t" style="top:519.70px;font-size:9.8px;line-height:9.8px;font-weight:400;color:#3a4690;font-family:'Liberation Sans', sans-serif;right:107.29999999999995px;text-align:right;">2.1</div>
<div class="t" style="top:521.70px;font-size:9.8px;line-height:9.8px;font-weight:400;color:#3a4690;font-family:'Liberation Sans', sans-serif;left:724.4px;">1.9</div>
<div class="r" style="left:545.5px;top:553.2px;width:191.7px;height:1px;background:#ececec;"></div>
<div class="t" style="top:568.04px;font-size:10.7px;line-height:10.7px;font-weight:400;color:#333;font-family:'Liberation Sans', sans-serif;left:545.5px;">Spain</div>
<div class="t" style="top:558.70px;font-size:9.8px;line-height:9.8px;font-weight:400;color:#3a4690;font-family:'Liberation Sans', sans-serif;right:107.29999999999995px;text-align:right;">2.2</div>
<div class="t" style="top:560.60px;font-size:9.8px;line-height:9.8px;font-weight:400;color:#3a4690;font-family:'Liberation Sans', sans-serif;left:724.4px;">2.0</div>
<div class="r" style="left:545.5px;top:593.1px;width:191.7px;height:1px;background:#ececec;"></div>
<div class="t" style="top:607.94px;font-size:10.7px;line-height:10.7px;font-weight:400;color:#333;font-family:'Liberation Sans', sans-serif;left:545.5px;">France</div>
<div class="t" style="top:601.80px;font-size:9.8px;line-height:9.8px;font-weight:400;color:#3a4690;font-family:'Liberation Sans', sans-serif;right:107.29999999999995px;text-align:right;">1.3</div>
<div class="t" style="top:599.00px;font-size:9.8px;line-height:9.8px;font-weight:400;color:#3a4690;font-family:'Liberation Sans', sans-serif;left:724.4px;">1.6</div>
<div class="r" style="left:545.5px;top:632.7px;width:191.7px;height:1px;background:#ececec;"></div>
<div class="t" style="top:646.94px;font-size:10.7px;line-height:10.7px;font-weight:400;color:#333;font-family:'Liberation Sans', sans-serif;left:545.5px;">Italy</div>
<div class="t" style="top:641.10px;font-size:9.8px;line-height:9.8px;font-weight:400;color:#3a4690;font-family:'Liberation Sans', sans-serif;right:107.29999999999995px;text-align:right;">1.7</div>
<div class="t" style="top:638.20px;font-size:9.8px;line-height:9.8px;font-weight:400;color:#3a4690;font-family:'Liberation Sans', sans-serif;left:724.4px;">2.0</div>
<div class="r" style="left:545.5px;top:672.3px;width:191.7px;height:1px;background:#ececec;"></div>
<div class="t" style="top:686.94px;font-size:10.7px;line-height:10.7px;font-weight:400;color:#333;font-family:'Liberation Sans', sans-serif;left:545.5px;">Poland</div>
<div class="t" style="top:677.90px;font-size:9.8px;line-height:9.8px;font-weight:400;color:#3a4690;font-family:'Liberation Sans', sans-serif;right:107.29999999999995px;text-align:right;">4.3</div>
<div class="t" style="top:682.00px;font-size:9.8px;line-height:9.8px;font-weight:400;color:#3a4690;font-family:'Liberation Sans', sans-serif;left:724.4px;">3.4</div>
<svg class="r" style="left:0;top:0" width="764" height="1024"><path d="M662.8,525 L719,526.7 L719,542.6 L662.8,542.6Z" fill="#d3d6ec"/><line x1="662.8" y1="542.1" x2="719" y2="542.1" stroke="#555a7a" stroke-width="1"/><line x1="662.8" y1="525" x2="719" y2="526.7" stroke="#26358c" stroke-width="2.4"/><circle cx="662.8" cy="525" r="2.9" fill="#26358c"/><circle cx="719" cy="526.7" r="2.9" fill="#26358c"/><path d="M662.8,564 L719,565.6 L719,581.9 L662.8,581.9Z" fill="#d3d6ec"/><line x1="662.8" y1="581.4" x2="719" y2="581.4" stroke="#555a7a" stroke-width="1"/><line x1="662.8" y1="564" x2="719" y2="565.6" stroke="#26358c" stroke-width="2.4"/><circle cx="662.8" cy="564" r="2.9" fill="#26358c"/><circle cx="719" cy="565.6" r="2.9" fill="#26358c"/><path d="M662.8,607.1 L719,604 L719,621.8 L662.8,621.8Z" fill="#d3d6ec"/><line x1="662.8" y1="621.3" x2="719" y2="621.3" stroke="#555a7a" stroke-width="1"/><line x1="662.8" y1="607.1" x2="719" y2="604" stroke="#26358c" stroke-width="2.4"/><circle cx="662.8" cy="607.1" r="2.9" fill="#26358c"/><circle cx="719" cy="604" r="2.9" fill="#26358c"/><path d="M662.8,646.4 L719,643.2 L719,660.8 L662.8,660.8Z" fill="#d3d6ec"/><line x1="662.8" y1="660.3" x2="719" y2="660.3" stroke="#555a7a" stroke-width="1"/><line x1="662.8" y1="646.4" x2="719" y2="643.2" stroke="#26358c" stroke-width="2.4"/><circle cx="662.8" cy="646.4" r="2.9" fill="#26358c"/><circle cx="719" cy="643.2" r="2.9" fill="#26358c"/><path d="M662.8,683.2 L719,687 L719,700.7 L662.8,700.7Z" fill="#d3d6ec"/><line x1="662.8" y1="700.2" x2="719" y2="700.2" stroke="#555a7a" stroke-width="1"/><line x1="662.8" y1="683.2" x2="719" y2="687" stroke="#26358c" stroke-width="2.4"/><circle cx="662.8" cy="683.2" r="2.9" fill="#26358c"/><circle cx="719" cy="687" r="2.9" fill="#26358c"/></svg>
<svg class="r" style="left:0;top:0" width="764" height="1024"><line x1="26.5" y1="712.4" x2="738" y2="712.4" stroke="#6d6d6d" stroke-width="1.3" stroke-dasharray="4.5 3"/></svg>
<div class="r" style="left:21.2px;top:723.9px;width:94px;height:2.3px;background:#bfce66;"></div>
<div class="t" style="top:732.84px;font-size:17.5px;line-height:17.5px;font-weight:700;color:#22307c;font-family:'Liberation Serif', serif;left:22.5px;">Negative risks predominate going forward</div>
<div class="t" style="top:756.34px;font-size:12px;line-height:12px;font-weight:700;color:#333;font-family:'Liberation Sans', sans-serif;letter-spacing:-0.08px;left:22.9px;">Impact of tariffs since their implementation</div>
<div class="t" style="top:771.67px;font-size:11.5px;line-height:11.5px;font-weight:400;color:#5f5f5f;font-family:'Liberation Sans', sans-serif;left:22.9px;">Deviation with respect to a scenario without new tariffs</div>
<div class="t" style="top:785.73px;font-size:11.3px;line-height:11.3px;font-weight:400;color:#5f5f5f;font-family:'Liberation Sans', sans-serif;left:22.9px;">(Index, 100=Year of implementation)</div>
<div class="t" style="top:829.01px;font-size:10.5px;line-height:10.5px;font-weight:400;color:#222;font-family:'Liberation Sans', sans-serif;right:713.4px;text-align:right;">100</div>
<div class="t" style="top:874.01px;font-size:10.5px;line-height:10.5px;font-weight:400;color:#222;font-family:'Liberation Sans', sans-serif;right:713.4px;text-align:right;">99</div>
<div class="t" style="top:919.71px;font-size:10.5px;line-height:10.5px;font-weight:400;color:#222;font-family:'Liberation Sans', sans-serif;right:713.4px;text-align:right;">98</div>
<svg class="r" style="left:0;top:0" width="764" height="1024"><polyline points="65.0,834.4 76.0,845.8 87.0,857.1 98.0,857.1" fill="none" stroke="#aec62c" stroke-width="3.1" stroke-linejoin="round" stroke-linecap="round"/><polyline points="65.0,834.4 76.0,843.5 87.0,852.6 98.0,852.6" fill="none" stroke="#24338a" stroke-width="3.1" stroke-linejoin="round" stroke-linecap="round"/><polyline points="117.0,834.4 128.0,850.3 139.0,866.2 150.0,875.3" fill="none" stroke="#aec62c" stroke-width="3.1" stroke-linejoin="round" stroke-linecap="round"/><polyline points="117.0,834.4 128.0,866.2 139.0,879.8 150.0,888.9" fill="none" stroke="#24338a" stroke-width="3.1" stroke-linejoin="round" stroke-linecap="round"/><polyline points="169.0,834.4 180.0,884.3 191.0,893.4 202.0,884.3" fill="none" stroke="#aec62c" stroke-width="3.1" stroke-linejoin="round" stroke-linecap="round"/><polyline points="169.0,834.4 180.0,875.3 191.0,884.3 202.0,875.3" fill="none" stroke="#24338a" stroke-width="3.1" stroke-linejoin="round" stroke-linecap="round"/><polyline points="221.0,834.4 232.0,850.3 243.0,879.8 254.0,893.4" fill="none" stroke="#aec62c" stroke-width="3.1" stroke-linejoin="round" stroke-linecap="round"/><polyline points="221.0,834.4 232.0,850.3 243.0,870.7 254.0,879.8" fill="none" stroke="#24338a" stroke-width="3.1" stroke-linejoin="round" stroke-linecap="round"/><polyline points="273.0,834.4 284.0,834.4 295.0,838.9 306.0,843.5" fill="none" stroke="#aec62c" stroke-width="3.1" stroke-linejoin="round" stroke-linecap="round"/><polyline points="273.0,834.4 284.0,829.9 295.0,834.4 306.0,834.4" fill="none" stroke="#24338a" stroke-width="3.1" stroke-linejoin="round" stroke-linecap="round"/><polyline points="325.0,834.4 336.0,836.7 347.0,843.5 358.0,850.3" fill="none" stroke="#aec62c" stroke-width="3.1" stroke-linejoin="round" stroke-linecap="round"/><polyline points="325.0,834.4 336.0,834.4 347.0,834.4 358.0,838.9" fill="none" stroke="#24338a" stroke-width="3.1" stroke-linejoin="round" stroke-linecap="round"/><line x1="379.4" y1="843.4" x2="409.5" y2="843.4" stroke="#aec62c" stroke-width="3"/><line x1="379.4" y1="898.7" x2="409.5" y2="898.7" stroke="#24338a" stroke-width="3"/><line x1="60.1" y1="926" x2="364.2" y2="926" stroke="#cfcfcf" stroke-width="1"/><line x1="60.1" y1="925.5" x2="60.1" y2="975.5" stroke="#cfcfcf" stroke-width="1"/><line x1="112.4" y1="925.5" x2="112.4" y2="975.5" stroke="#cfcfcf" stroke-width="1"/><line x1="164.8" y1="925.5" x2="164.8" y2="975.5" stroke="#cfcfcf" stroke-width="1"/><line x1="216.6" y1="925.5" x2="216.6" y2="975.5" stroke="#cfcfcf" stroke-width="1"/><line x1="268.7" y1="925.5" x2="268.7" y2="975.5" stroke="#cfcfcf" stroke-width="1"/><line x1="320.9" y1="925.5" x2="320.9" y2="975.5" stroke="#cfcfcf" stroke-width="1"/><line x1="364.2" y1="925.5" x2="364.2" y2="975.5" stroke="#cfcfcf" stroke-width="1"/></svg>
<div class="t" style="top:914.55px;font-size:8.56px;line-height:8.56px;font-weight:400;color:#333;font-family:'Liberation Sans', sans-serif;left:59.9px;">Years since implementation</div>
<div class="t" style="top:933.33px;font-size:10px;line-height:10px;font-weight:400;color:#333;font-family:'Liberation Sans', sans-serif;left:65px;transform:translateX(-50%);text-align:center;">0</div>
<div class="t" style="top:933.33px;font-size:10px;line-height:10px;font-weight:400;color:#333;font-family:'Liberation Sans', sans-serif;left:76px;transform:translateX(-50%);text-align:center;">1</div>
<div class="t" style="top:933.33px;font-size:10px;line-height:10px;font-weight:400;color:#333;font-family:'Liberation Sans', sans-serif;left:87px;transform:translateX(-50%);text-align:center;">2</div>
<div class="t" style="top:933.33px;font-size:10px;line-height:10px;font-weight:400;color:#333;font-family:'Liberation Sans', sans-serif;left:98px;transform:translateX(-50%);text-align:center;">3</div>
<div class="t" style="top:953.08px;font-size:10.3px;line-height:10.3px;font-weight:400;color:#222;font-family:'Liberation Sans', sans-serif;left:86.25px;transform:translateX(-50%);text-align:center;">World</div>
<div class="t" style="top:933.33px;font-size:10px;line-height:10px;font-weight:400;color:#333;font-family:'Liberation Sans', sans-serif;left:117px;transform:translateX(-50%);text-align:center;">0</div>
<div class="t" style="top:933.33px;font-size:10px;line-height:10px;font-weight:400;color:#333;font-family:'Liberation Sans', sans-serif;left:128px;transform:translateX(-50%);text-align:center;">1</div>
<div class="t" style="top:933.33px;font-size:10px;line-height:10px;font-weight:400;color:#333;font-family:'Liberation Sans', sans-serif;left:139px;transform:translateX(-50%);text-align:center;">2</div>
<div class="t" style="top:933.33px;font-size:10px;line-height:10px;font-weight:400;color:#333;font-family:'Liberation Sans', sans-serif;left:150px;transform:translateX(-50%);text-align:center;">3</div>
<div class="t" style="top:953.08px;font-size:10.3px;line-height:10.3px;font-weight:400;color:#222;font-family:'Liberation Sans', sans-serif;left:138.60000000000002px;transform:translateX(-50%);text-align:center;">US</div>
<div class="t" style="top:933.33px;font-size:10px;line-height:10px;font-weight:400;color:#333;font-family:'Liberation Sans', sans-serif;left:169px;transform:translateX(-50%);text-align:center;">0</div>
<div class="t" style="top:933.33px;font-size:10px;line-height:10px;font-weight:400;color:#333;font-family:'Liberation Sans', sans-serif;left:180px;transform:translateX(-50%);text-align:center;">1</div>
<div class="t" style="top:933.33px;font-size:10px;line-height:10px;font-weight:400;color:#333;font-family:'Liberation Sans', sans-serif;left:191px;transform:translateX(-50%);text-align:center;">2</div>
<div class="t" style="top:933.33px;font-size:10px;line-height:10px;font-weight:400;color:#333;font-family:'Liberation Sans', sans-serif;left:202px;transform:translateX(-50%);text-align:center;">3</div>
<div class="t" style="top:953.08px;font-size:10.3px;line-height:10.3px;font-weight:400;color:#222;font-family:'Liberation Sans', sans-serif;left:190.7px;transform:translateX(-50%);text-align:center;">China</div>
<div class="t" style="top:933.33px;font-size:10px;line-height:10px;font-weight:400;color:#333;font-family:'Liberation Sans', sans-serif;left:221px;transform:translateX(-50%);text-align:center;">0</div>
<div class="t" style="top:933.33px;font-size:10px;line-height:10px;font-weight:400;color:#333;font-family:'Liberation Sans', sans-serif;left:232px;transform:translateX(-50%);text-align:center;">1</div>
<div class="t" style="top:933.33px;font-size:10px;line-height:10px;font-weight:400;color:#333;font-family:'Liberation Sans', sans-serif;left:243px;transform:translateX(-50%);text-align:center;">2</div>
<div class="t" style="top:933.33px;font-size:10px;line-height:10px;font-weight:400;color:#333;font-family:'Liberation Sans', sans-serif;left:254px;transform:translateX(-50%);text-align:center;">3</div>
<div class="t" style="top:953.08px;font-size:10.3px;line-height:10.3px;font-weight:400;color:#222;font-family:'Liberation Sans', sans-serif;left:242.64999999999998px;transform:translateX(-50%);text-align:center;">Canada</div>
<div class="t" style="top:964.68px;font-size:10.3px;line-height:10.3px;font-weight:400;color:#222;font-family:'Liberation Sans', sans-serif;left:242.64999999999998px;transform:translateX(-50%);text-align:center;">and Mexico</div>
<div class="t" style="top:933.33px;font-size:10px;line-height:10px;font-weight:400;color:#333;font-family:'Liberation Sans', sans-serif;left:273px;transform:translateX(-50%);text-align:center;">0</div>
<div class="t" style="top:933.33px;font-size:10px;line-height:10px;font-weight:400;color:#333;font-family:'Liberation Sans', sans-serif;left:284px;transform:translateX(-50%);text-align:center;">1</div>
<div class="t" style="top:933.33px;font-size:10px;line-height:10px;font-weight:400;color:#333;font-family:'Liberation Sans', sans-serif;left:295px;transform:translateX(-50%);text-align:center;">2</div>
<div class="t" style="top:933.33px;font-size:10px;line-height:10px;font-weight:400;color:#333;font-family:'Liberation Sans', sans-serif;left:306px;transform:translateX(-50%);text-align:center;">3</div>
<div class="t" style="top:953.08px;font-size:10.3px;line-height:10.3px;font-weight:400;color:#222;font-family:'Liberation Sans', sans-serif;left:294.79999999999995px;transform:translateX(-50%);text-align:center;">Eurozone</div>
<div class="t" style="top:933.33px;font-size:10px;line-height:10px;font-weight:400;color:#333;font-family:'Liberation Sans', sans-serif;left:325px;transform:translateX(-50%);text-align:center;">0</div>
<div class="t" style="top:933.33px;font-size:10px;line-height:10px;font-weight:400;color:#333;font-family:'Liberation Sans', sans-serif;left:336px;transform:translateX(-50%);text-align:center;">1</div>
<div class="t" style="top:933.33px;font-size:10px;line-height:10px;font-weight:400;color:#333;font-family:'Liberation Sans', sans-serif;left:347px;transform:translateX(-50%);text-align:center;">2</div>
<div class="t" style="top:933.33px;font-size:10px;line-height:10px;font-weight:400;color:#333;font-family:'Liberation Sans', sans-serif;left:358px;transform:translateX(-50%);text-align:center;">3</div>
<div class="t" style="top:953.08px;font-size:10.3px;line-height:10.3px;font-weight:400;color:#222;font-family:'Liberation Sans', sans-serif;left:342.54999999999995px;transform:translateX(-50%);text-align:center;">Other</div>
<div class="t" style="top:964.68px;font-size:10.3px;line-height:10.3px;font-weight:400;color:#222;font-family:'Liberation Sans', sans-serif;left:342.54999999999995px;transform:translateX(-50%);text-align:center;">Asia</div>
<div class="t" style="top:838.24px;font-size:10px;line-height:10px;font-weight:400;color:#222;font-family:'Liberation Sans', sans-serif;left:411.2px;">Tariffs announced</div>
<div class="t" style="top:850.24px;font-size:10px;line-height:10px;font-weight:400;color:#222;font-family:'Liberation Sans', sans-serif;left:411.2px;">through April 4</div>
<div class="t" style="top:893.93px;font-size:10px;line-height:10px;font-weight:400;color:#222;font-family:'Liberation Sans', sans-serif;left:411.2px;">Temporary tariffs, but</div>
<div class="t" style="top:905.83px;font-size:10px;line-height:10px;font-weight:400;color:#222;font-family:'Liberation Sans', sans-serif;left:411.2px;">fully passed on to the</div>
<div class="t" style="top:917.63px;font-size:10px;line-height:10px;font-weight:400;color:#222;font-family:'Liberation Sans', sans-serif;left:411.2px;">final consumer</div>
<div class="t" style="top:753.04px;font-size:12px;line-height:12px;font-weight:400;color:#222;font-family:'Liberation Sans', sans-serif;left:527.9px;">•</div>
<div class="t" style="top:753.49px;font-size:11.35px;line-height:11.35px;font-weight:400;color:#222;font-family:'Liberation Sans', sans-serif;left:547.4px;"><b style="letter-spacing:-0.35px;">An escalation of trade tensions</b> –</div>
<div class="t" style="top:767.09px;font-size:11.35px;line-height:11.35px;font-weight:400;color:#222;font-family:'Liberation Sans', sans-serif;left:547.4px;">potentially leading to a trade war- is</div>
<div class="t" style="top:780.69px;font-size:11.35px;line-height:11.35px;font-weight:400;color:#222;font-family:'Liberation Sans', sans-serif;left:547.4px;">the main downside risk.</div>
<div class="t" style="top:807.74px;font-size:12px;line-height:12px;font-weight:400;color:#222;font-family:'Liberation Sans', sans-serif;left:527.9px;">•</div>
<div class="t" style="top:808.19px;font-size:11.35px;line-height:11.35px;font-weight:400;color:#222;font-family:'Liberation Sans', sans-serif;left:547.4px;">Other relevant risks include <b style="letter-spacing:-0.35px;">financial</b></div>
<div class="t" style="top:821.79px;font-size:11.35px;line-height:11.35px;font-weight:400;color:#222;font-family:'Liberation Sans', sans-serif;left:547.4px;"><b style="letter-spacing:-0.35px;">market volatility, rising long-term</b></div>
<div class="t" style="top:835.39px;font-size:11.35px;line-height:11.35px;font-weight:400;color:#222;font-family:'Liberation Sans', sans-serif;left:547.4px;"><b style="letter-spacing:-0.35px;">interest rates and social unrest.</b></div>
<div class="t" style="top:862.44px;font-size:12px;line-height:12px;font-weight:400;color:#222;font-family:'Liberation Sans', sans-serif;left:527.9px;">•</div>
<div class="t" style="top:862.89px;font-size:11.35px;line-height:11.35px;font-weight:400;color:#222;font-family:'Liberation Sans', sans-serif;left:547.4px;"><b style="letter-spacing:-0.35px;">New regional trade agreements</b> or the</div>
<div class="t" style="top:876.49px;font-size:11.35px;line-height:11.35px;font-weight:400;color:#222;font-family:'Liberation Sans', sans-serif;left:547.4px;"><b style="letter-spacing:-0.35px;">mitigation of conflicts</b> could lead to</div>
<div class="t" style="top:890.09px;font-size:11.35px;line-height:11.35px;font-weight:400;color:#222;font-family:'Liberation Sans', sans-serif;left:547.4px;">more positive scenarios.</div>
<div class="r" style="left:0px;top:993px;width:764px;height:31px;background:#24338a;"></div>
<div class="t" style="top:1003.42px;font-size:6px;line-height:6px;font-weight:400;color:#fff;font-family:'Liberation Sans', sans-serif;left:8.5px;">Source: International Monetary Fund.</div>
<svg class="r" style="left:0;top:0" width="764" height="1024"><path fill="#fff" transform="translate(298,1000) scale(0.0415)" d="M459.37 151.716c.325 4.548.325 9.097.325 13.645 0 138.72-105.583 298.558-298.558 298.558-59.452 0-114.68-17.219-161.137-47.106 8.447.974 16.568 1.299 25.34 1.299 49.055 0 94.213-16.568 130.274-44.832-46.132-.975-84.792-31.188-98.112-72.772 6.498.974 12.995 1.624 19.818 1.624 9.421 0 18.843-1.3 27.614-3.573-48.081-9.747-84.143-51.98-84.143-102.985v-1.299c13.969 7.797 30.214 12.67 47.431 13.319-28.264-18.843-46.781-51.005-46.781-87.391 0-19.492 5.197-37.36 14.294-52.954 51.655 63.675 129.3 105.258 216.365 109.807-1.624-7.797-2.599-15.918-2.599-24.04 0-57.828 46.782-104.934 104.934-104.934 30.213 0 57.502 12.67 76.67 33.137 23.715-4.548 46.456-13.32 66.599-25.34-7.798 24.366-24.366 44.833-46.132 57.827 21.117-2.273 41.584-8.122 60.426-16.243-14.292 20.791-32.161 39.308-52.628 54.253z"/><rect x="349" y="1005.5" width="4" height="11.5" fill="#fff"/><circle cx="351" cy="1001.8" r="2.3" fill="#fff"/><path fill="#fff" d="M355.5,1005.5 h3.8 v1.8 c0.8,-1.4 2.2,-2.1 4,-2.1 c3,0 4,1.9 4,4.8 v7 h-4 v-6.2 c0,-1.5 -0.4,-2.5 -1.8,-2.5 c-1.5,0 -2.1,1.1 -2.1,2.6 v6.1 h-3.9z"/><rect x="396.1" y="1000.6" width="16.4" height="16.4" rx="3.2" fill="none" stroke="#fff" stroke-width="1.8"/><rect x="396.1" y="1004.6" width="16.4" height="1.3" fill="#fff"/><rect x="398.3" y="1000.6" width="0.9" height="4" fill="#fff"/><rect x="400.1" y="1000.6" width="0.9" height="4" fill="#fff"/><rect x="407.6" y="1002.2" width="3" height="1.8" fill="#fff"/><circle cx="404.3" cy="1010" r="5.4" fill="#24338a"/><circle cx="404.3" cy="1010" r="4.3" fill="#fff"/><rect x="440.6" y="1000.9" width="24.1" height="17" rx="4" fill="#fff"/><path d="M449.8,1005 L457.2,1009.3 L449.8,1013.6Z" fill="#24338a"/></svg>
<div class="r" style="left:590.4px;top:35.9px;width:0;height:0;transform:scale(1);transform-origin:0 0"><svg class="r" style="left:-25px;top:-25px;overflow:visible" width="50" height="50"><circle cx="25" cy="25" r="16.95" fill="none" stroke="#fff" stroke-width="4.7"/><path d="M13.8,24.9 a11.2,11.2 0 0 1 22.4,0z" fill="#b8cf3a"/><rect x="24.6" y="24.9" width="22" height="2.5" fill="#24338a"/></svg><div class="t" style="top:-8.63px;font-size:11.5px;line-height:11.5px;font-weight:400;color:#fff;font-family:'Liberation Sans', sans-serif;letter-spacing:1.55px;left:32.3px;-webkit-text-stroke:0.35px #fff;">CÍRCULO</div><div class="t" style="top:4.54px;font-size:6.8px;line-height:6.8px;font-weight:700;color:#fff;font-family:'Liberation Sans', sans-serif;letter-spacing:0.3px;left:32.1px;">DE</div><div class="t" style="top:3.67px;font-size:11.5px;line-height:11.5px;font-weight:400;color:#fff;font-family:'Liberation Sans', sans-serif;letter-spacing:1.3px;left:47.6px;-webkit-text-stroke:0.35px #fff;">EMPRESARIOS</div><div class="t" style="top:18.65px;font-size:12px;line-height:12px;font-weight:400;color:#fff;font-family:'Liberation Serif', serif;font-style:italic;left:46.7px;">ideas for growth</div></div>
<div class="r" style="left:682.6px;top:1005.4px;width:0;height:0;transform:scale(0.487);transform-origin:0 0"><svg class="r" style="left:-25px;top:-25px;overflow:visible" width="50" height="50"><circle cx="25" cy="25" r="16.95" fill="none" stroke="#fff" stroke-width="4.7"/><path d="M13.8,24.9 a11.2,11.2 0 0 1 22.4,0z" fill="#b8cf3a"/><rect x="24.6" y="24.9" width="22" height="2.5" fill="#24338a"/></svg><div class="t" style="top:-8.63px;font-size:11.5px;line-height:11.5px;font-weight:400;color:#fff;font-family:'Liberation Sans', sans-serif;letter-spacing:1.55px;left:32.3px;-webkit-text-stroke:0.35px #fff;">CÍRCULO</div><div class="t" style="top:4.54px;font-size:6.8px;line-height:6.8px;font-weight:700;color:#fff;font-family:'Liberation Sans', sans-serif;letter-spacing:0.3px;left:32.1px;">DE</div><div class="t" style="top:3.67px;font-size:11.5px;line-height:11.5px;font-weight:400;color:#fff;font-family:'Liberation Sans', sans-serif;letter-spacing:1.3px;left:47.6px;-webkit-text-stroke:0.35px #fff;">EMPRESARIOS</div><div class="t" style="top:18.65px;font-size:12px;line-height:12px;font-weight:400;color:#fff;font-family:'Liberation Serif', serif;font-style:italic;left:46.7px;">ideas for growth</div></div>
</body></html>
